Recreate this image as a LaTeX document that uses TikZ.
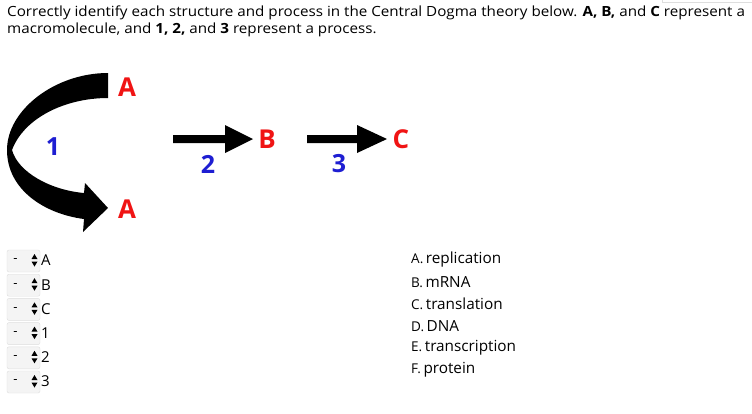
\documentclass[tikz,border=0pt]{standalone}
\usepackage{fontspec}
\setmainfont{Open Sans}
\newfontfamily\cond[FakeStretch=1.085]{Open Sans}
\definecolor{tred}{RGB}{240,20,20}
\definecolor{tblue}{RGB}{30,30,210}
\definecolor{boxfill}{RGB}{244,244,244}
\definecolor{boxline}{RGB}{222,222,222}
\begin{document}
\begin{tikzpicture}[x=1pt,y=-1pt,
  head/.style={font=\fontsize{14}{14}\selectfont\cond},
  big/.style={font=\fontsize{26}{26}\selectfont\bfseries, inner sep=0pt},
  mol/.style={big, text=tred},
  proc/.style={big, text=tblue, font=\fontsize{25}{25}\selectfont\bfseries},
  ddbox/.style={draw=boxline, fill=boxfill, rounded corners=2pt, minimum width=33pt, minimum height=22pt, inner sep=0pt},
  ddlab/.style={font=\fontsize{15}{15}\selectfont, anchor=west, inner sep=0pt},
  opt/.style={font=\fontsize{15.3}{15.3}\selectfont, anchor=west, inner sep=0pt},
  blk/.style={fill=black}]
\useasboundingbox (0,0) rectangle (752,413);
\fill[white] (0,0) rectangle (752,413);
\draw[boxline] (662,0) -- (662,2) -- (752,2);
% heading
\node[head, anchor=base west, inner sep=0pt] (l1) at (7,16.8) {Correctly identify each structure and process in the Central Dogma theory below. \textbf{A, B,} and \textbf{C} represent a};
\node[head, anchor=base west, inner sep=0pt] (l2) at (7,33) {macromolecule, and \textbf{1, 2,} and \textbf{3} represent a process.};
% curved arrow (process 1)
\fill[blk] (108,73) .. controls (55,73) and (7,110) .. (7,150)
  .. controls (7,190) and (45,214) .. (84,219) -- (83,232) -- (108,208) -- (85,183) -- (84,193)
  .. controls (50,190) and (18,172) .. (12,150)
  .. controls (24,118) and (65,98) .. (108,98) -- cycle;
\node[mol] (a1) at (127,87) {A};
\node[mol] (a2) at (127,209) {A};
\node[proc] (p1) at (53,147) {1};
% straight arrows
\fill[blk] (173,135) -- (225,135) -- (225,125) -- (253,139) -- (225,153) -- (225,143) -- (173,143) -- cycle;
\fill[blk] (307,135) -- (357,135) -- (357,125) -- (387,139) -- (357,153) -- (357,143) -- (307,143) -- cycle;
\node[mol] (b) at (267,139) {B};
\node[mol] (c) at (401,139) {C};
\node[proc] (p2) at (208,164) {2};
\node[proc] (p3) at (339,164) {3};
% dropdowns
\foreach \i/\t in {0/A,1/B,2/C,3/1,4/2,5/3}{
  \pgfmathsetmacro{\yy}{261+24.2*\i}
  \node[ddbox] (dd\i) at (23.5,\yy) {};
  \node[font=\fontsize{13}{13}\selectfont, inner sep=0pt] (dash\i) at (15.5,\yy) {-};
  \fill (31.5,\yy-2) -- (37.5,\yy-2) -- (34.5,\yy-7) -- cycle;
  \fill (31.5,\yy+0.5) -- (37.5,\yy+0.5) -- (34.5,\yy+5.5) -- cycle;
  \node[ddlab] (lab\i) at (41,\yy-0.5) {\t};
}
% options
\foreach \i/\l/\t in {0/A./replication,1/B./mRNA,2/C./translation,3/D./DNA,4/E./transcription,5/F./protein}{
  \pgfmathsetmacro{\yy}{260+22*\i}
  \node[opt] (opt\i) at (411,\yy) {{\fontsize{13.5}{13.5}\selectfont\l}\,\t};
}
\end{tikzpicture}
\end{document}
